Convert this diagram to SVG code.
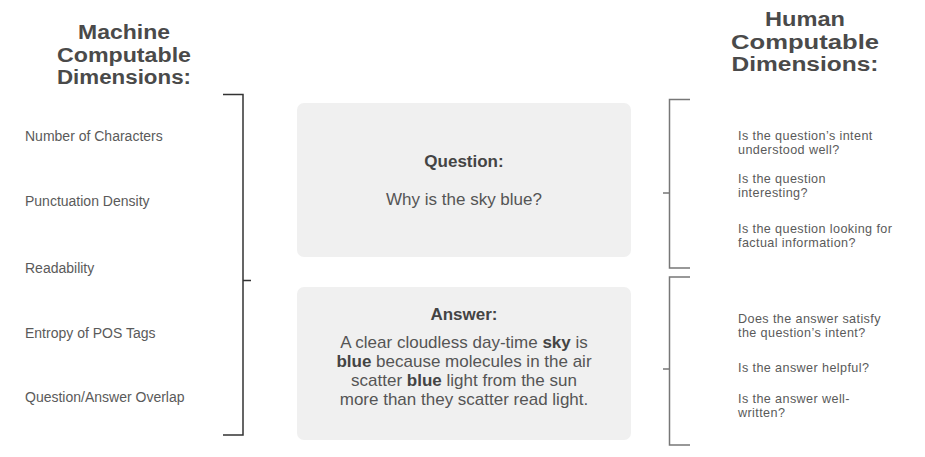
<svg xmlns="http://www.w3.org/2000/svg" width="925" height="457" viewBox="0 0 925 457">
<style>
.h{font-family:"Liberation Sans",Arial,sans-serif;font-weight:bold;font-size:19.5px;fill:#4a4a4a;text-anchor:middle}
.l{font-family:"Liberation Sans",Arial,sans-serif;font-size:14px;fill:#5a5a5a}
.r{font-family:"Liberation Sans",Arial,sans-serif;font-size:12.6px;letter-spacing:0.4px;fill:#5a5a5a}
.box{fill:#f0f0f0}
.bt{font-family:"Liberation Sans",Arial,sans-serif;font-size:17px;fill:#555;text-anchor:middle}
.bh{font-weight:bold;fill:#444}
.bl{fill:none;stroke:#333;stroke-width:1.5}
.br{fill:none;stroke:#777;stroke-width:1.5}
</style>
<rect width="925" height="457" fill="#fff"/>
<g id="machine-heading">
<text class="h" x="124" y="39" textLength="92" lengthAdjust="spacingAndGlyphs">Machine</text>
<text class="h" x="124" y="61.5" textLength="134" lengthAdjust="spacingAndGlyphs">Computable</text>
<text class="h" x="124" y="84" textLength="134" lengthAdjust="spacingAndGlyphs">Dimensions:</text>
</g>
<g id="human-heading">
<text class="h" x="805" y="26" textLength="80" lengthAdjust="spacingAndGlyphs">Human</text>
<text class="h" x="805" y="48.5" textLength="148" lengthAdjust="spacingAndGlyphs">Computable</text>
<text class="h" x="805" y="71" textLength="147" lengthAdjust="spacingAndGlyphs">Dimensions:</text>
</g>
<g id="machine-dimensions">
<text class="l" x="25" y="141">Number of Characters</text>
<text class="l" x="25" y="206">Punctuation Density</text>
<text class="l" x="25" y="273">Readability</text>
<text class="l" x="25" y="338">Entropy of POS Tags</text>
<text class="l" x="25" y="402">Question/Answer Overlap</text>
</g>
<g id="question">
<rect class="box" x="297" y="103" width="334" height="154" rx="7"/>
<text class="bt bh" x="464" y="167">Question:</text>
<text class="bt" x="464" y="205">Why is the sky blue?</text>
</g>
<g id="answer">
<rect class="box" x="297" y="287" width="334" height="153" rx="7"/>
<text class="bt bh" x="464" y="320">Answer:</text>
<text class="bt"><tspan x="464" y="348">A clear cloudless day-time <tspan class="bh">sky</tspan> is</tspan><tspan x="464" y="367"><tspan class="bh">blue</tspan> because molecules in the air</tspan><tspan x="464" y="386">scatter <tspan class="bh">blue</tspan> light from the sun</tspan><tspan x="464" y="405">more than they scatter read light.</tspan></text>
</g>
<g id="question-dimensions">
<text class="r"><tspan x="738" y="139.5">Is the question’s intent</tspan><tspan x="738" y="154">understood well?</tspan></text>
<text class="r"><tspan x="738" y="182.5">Is the question</tspan><tspan x="738" y="197">interesting?</tspan></text>
<text class="r"><tspan x="738" y="232.5">Is the question looking for</tspan><tspan x="738" y="247">factual information?</tspan></text>
</g>
<g id="answer-dimensions">
<text class="r"><tspan x="738" y="322.5">Does the answer satisfy</tspan><tspan x="738" y="337">the question’s intent?</tspan></text>
<text class="r" x="738" y="372">Is the answer helpful?</text>
<text class="r"><tspan x="738" y="402.5">Is the answer well-</tspan><tspan x="738" y="417">written?</tspan></text>
</g>
<g id="connectors">
<path class="bl" d="M223 94.5H243V435H223M243 280.5H251"/>
<path class="br" d="M690 99.5H669.5V268H690M669.5 193H663"/>
<path class="br" d="M690 277H669.5V445H690M669.5 369H663"/>
</g>
</svg>
